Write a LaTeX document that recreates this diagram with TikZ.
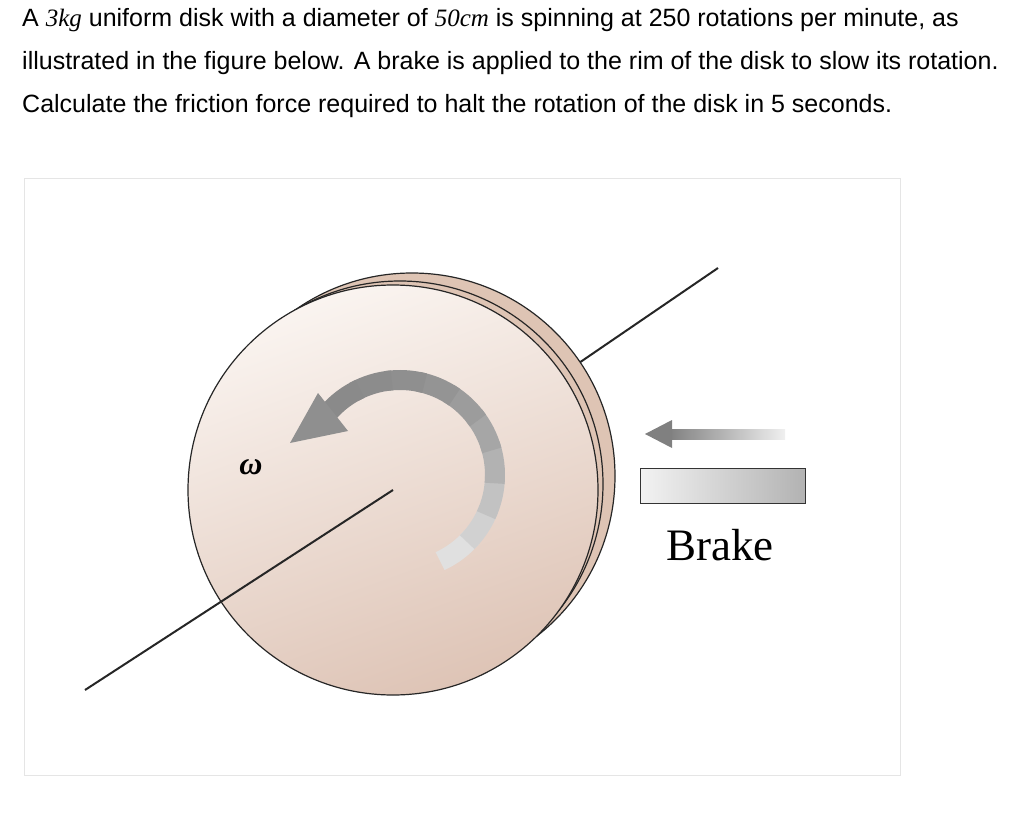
\documentclass[tikz,border=0pt]{standalone}
\usepackage{fontspec}
\setmainfont{Liberation Sans}
\newfontfamily\serifx{Liberation Serif}
\usetikzlibrary{shadings}
\definecolor{diskA}{RGB}{250,244,240}
\definecolor{diskB}{RGB}{222,196,182}
\definecolor{backd}{RGB}{222,196,180}
\newcommand{\mi}[1]{{\serifx\itshape #1}}
\tikzset{txt/.style={anchor=west,inner sep=0pt,font=\fontsize{25}{28}\selectfont},
axle/.style={line width=2pt,black!85}}
\begin{document}
\begin{tikzpicture}[x=1pt,y=-1pt]
\useasboundingbox (0,0) rectangle (1024,818);
\node[txt] (l1) at (22,20) {A \mi{3kg} uniform disk with a diameter of \mi{50cm} is spinning at 250 rotations per minute, as};
\node[txt] (l2) at (22,63) {illustrated in the figure below. A brake is applied to the rim of the disk to slow its rotation.};
\node[txt] (l3) at (22,106) {Calculate the friction force required to halt the rotation of the disk in 5 seconds.};
\draw[black!10] (24,178) rectangle (900,775);
% back axle
\draw[axle] (393,490) -- (718,268);
% back disk
\fill[backd] (412,476) circle (203);
\draw[black!85,line width=1.2pt] (412,476) circle (203);
\draw[black!85,line width=1.2pt] (400,484) circle (203);
% front disk
\shade[top color=diskA,bottom color=diskB,shading angle=20] (393,490) circle (205);
\draw[black!85,line width=1.2pt] (393,490) circle (205);
% front axle
\draw[axle] (85,690) -- (393,490);
% rotation arrow
\foreach \a/\c in {-65/12,-45/18,-25/24,-5/30,15/35,35/39,55/42,75/44,95/45,115/46}{
  \draw[line width=20pt,black!\c,line cap=butt] (400,475) ++({95*cos(\a)},{-95*sin(\a)}) arc[start angle=-\a,end angle={-\a-24},radius=95];
}
\fill[black!44] (318,393) -- (290,443) -- (348,431) -- cycle;
\node[font=\serifx\bfseries\itshape\fontsize{32}{34}\selectfont,inner sep=0pt] (w) at (251,467) {ω};
% brake arrow
\shade[left color=black!50,right color=black!6] (668,429) rectangle (785,439);
\fill[black!50] (645,434) -- (672,420) -- (672,448) -- cycle;
\shade[left color=black!5,right color=black!30,draw=black!80] (640,468) rectangle (805,503);
\node[font=\serifx\fontsize{45}{48}\selectfont,inner sep=0pt] (b) at (720,545) {Brake};
\end{tikzpicture}
\end{document}
